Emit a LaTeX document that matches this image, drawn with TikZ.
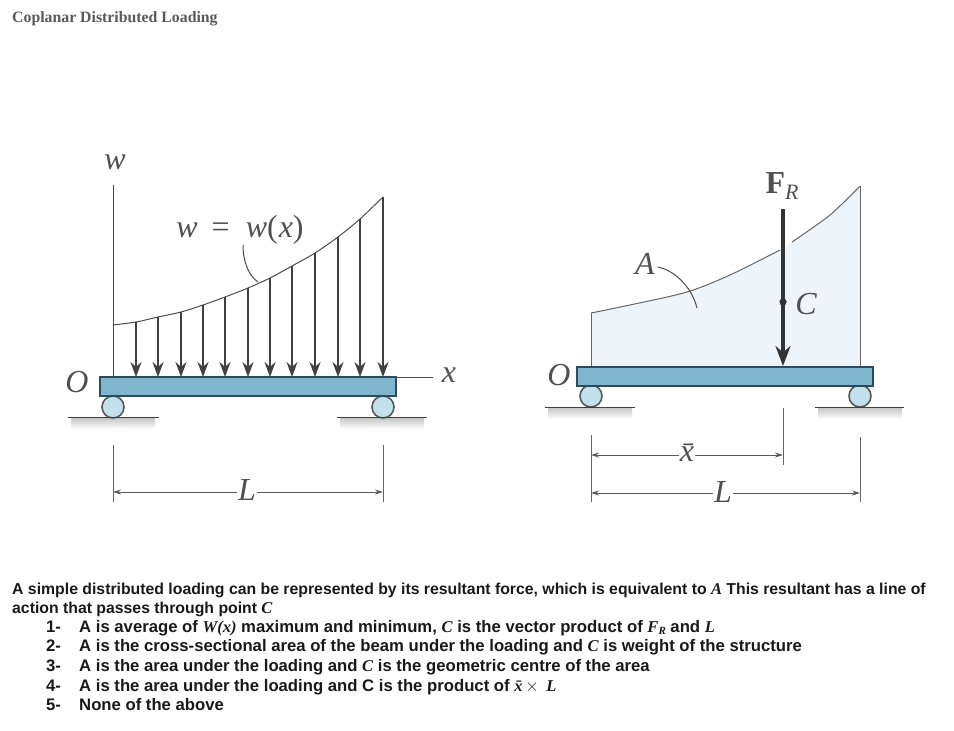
\documentclass[tikz,border=0pt]{standalone}
\usepackage{fontspec}
\setmainfont{Liberation Sans}
\newfontfamily\serifface{Liberation Serif}
\usepackage{tikz}
\usetikzlibrary{arrows.meta,positioning}
\definecolor{beamblue}{RGB}{128,182,205}
\definecolor{beamedge}{RGB}{45,75,90}
\definecolor{areablue}{RGB}{238,245,250}
\definecolor{rollerblue}{RGB}{195,225,235}
\definecolor{inkgray}{RGB}{80,80,80}
\newcommand{\mv}[1]{{\serifface\bfseries\itshape\fontsize{16.5}{16.5}\selectfont #1}}
\newcommand{\lab}[1]{{\serifface\itshape\fontsize{32}{32}\selectfont #1}}
\newcommand{\rmlab}[1]{{\serifface\fontsize{32}{32}\selectfont #1}}
\tikzset{beam node/.style={draw=beamedge,line width=1.4pt,fill=beamblue},
	roller node/.style={circle,draw=black!65,line width=1.6pt,fill=rollerblue,minimum size=22pt,inner sep=0pt},
	ground line/.style={draw=black!75,line width=1pt},
	thin line/.style={draw=black!70,line width=1pt},
	load arrow/.style={draw=black!75,line width=1.4pt,-{Stealth[length=15pt,width=11pt]}},
	dim line/.style={draw=black!65,line width=.9pt,-{Stealth[length=8pt,width=5pt]}},
	text line/.style={anchor=base west,inner sep=0pt,font=\bfseries\fontsize{15.8}{15.8}\selectfont,text=black!90},
	option line/.style={text line,font=\bfseries\fontsize{16.7}{16.7}\selectfont},
	label node/.style={text=inkgray,inner sep=1pt},
}

\begin{document}
\begin{tikzpicture}[x=1pt,y=-1pt]
	\useasboundingbox (0,0) rectangle (954,731);
	\node[anchor=base west,inner sep=0pt,text=black!65,font=\serifface\bfseries\fontsize{15.8}{15.8}\selectfont] (title) at (12,22) {Coplanar Distributed Loading};

	%% left figure
	\begin{scope}
	\foreach \gx in {68,337} {
		\shade[top color=black!22,bottom color=white] (\gx+3,418) rectangle (\gx+87,429);
	}
	\coordinate (axtop) at (113,185);
	\coordinate (axbot) at (113,377);
	\draw[thin line] (axtop) -- (axbot);
	\draw[thin line] plot[smooth] coordinates {(113,325) (136,322) (158,317) (181,312) (203,305) (225,297) (248,288) (270,278) (292,266) (315,253) (338,237) (360,219) (383,197)};
	\foreach \ax/\ay in {136/322,158/317,181/312,203/305,225/297,248/288,270/278,292/266,315/253,338/237,360/219,383/197} {
		\draw[load arrow] (\ax,\ay) -- (\ax,377);
	}
	\draw[thin line] (243,245) .. controls (243,262) and (249,276) .. (258,282);
	\node[label node] (wlab) at (115,162) {\lab{w}};
	\node[label node] (wfun) at (240,230) {\lab{w}\hspace{14pt}\rmlab{=}\hspace{16pt}\lab{w}\rmlab{(}\hspace{1pt}\lab{x}\rmlab{)}};
	\node[label node] (xlab) at (449,375) {\lab{x}};
	\node[label node] (olab) at (77,382) {\lab{O}};
	\draw[thin line] (396,377) -- (433,377);
	\node[roller node] (r1) at (113,407) {};
	\node[roller node] (r2) at (383,407) {};
	\draw[beam node] (100,377) rectangle (396,396);
	\draw[ground line] (68,417) -- (159,417);
	\draw[ground line] (337,417) -- (427,417);

	\coordinate (da) at (113,492);
	\coordinate (db) at (383,492);
	\node[label node] (llab) at (247,490) {\lab{L}};
	\draw[thin line,black!60] (113,445) -- (113,502);
	\draw[thin line,black!60] (383,445) -- (383,502);
	\draw[dim line] (llab.west |- da) -- (da);
	\draw[dim line] (llab.east |- db) -- (db);
	\end{scope}

	%% right figure
	\begin{scope}
	\foreach \gx in {545,815} {
		\shade[top color=black!22,bottom color=white] (\gx+3,408) rectangle (\gx+87,419);
	}
	\fill[areablue] plot[smooth] coordinates {(591,313) (630,305) (687,292) (730,275) (780,250) (792,242) (830,215) (860,186)} -- (860,367) -- (591,367) -- cycle;
	\draw[thin line,black!60] (591,367) -- (591,313);
	\draw[thin line,black!60] plot[smooth] coordinates {(591,313) (630,305) (687,292) (730,275) (780,250)};
	\draw[thin line,black!60] plot[smooth] coordinates {(792,242) (830,215) (860,186)};
	\draw[thin line,black!60] (860,186) -- (860,367);
	\draw[thin line] (658,267) .. controls (676,271) and (692,288) .. (697,308);
	\node[label node] (alab) at (645,264) {\lab{A}};
	\node[label node] (frlab) at (782,186) {{\serifface\bfseries\fontsize{32}{32}\selectfont F}{\serifface\itshape\fontsize{22}{22}\selectfont\raisebox{-6pt}{R}}};
	\node[label node] (clab) at (806,304) {\lab{C}};
	\node[label node] (o2lab) at (559,375) {\lab{O}};
	\coordinate (ftop) at (783,209);
	\coordinate (ftip) at (783,366);
	\draw[black!80,line width=3.6pt,-{Stealth[length=20pt,width=15pt]}] (ftop) -- (ftip);
	\fill[black!80] (783,302) circle (3.6pt);
	\node[roller node] (r3) at (591,396) {};
	\node[roller node] (r4) at (860,396) {};
	\draw[beam node] (577,367) rectangle (873,386);
	\draw[ground line] (545,407) -- (635,407);
	\draw[ground line] (815,407) -- (904,407);

	\coordinate (xa) at (591,455);
	\coordinate (xb) at (783,455);
	\coordinate (la) at (591,493);
	\coordinate (lb) at (860,493);
	\node[label node] (xbar) at (687,453) {{\serifface\itshape\fontsize{32}{32}\selectfont\=x}};
	\node[label node] (l2lab) at (723,492) {\lab{L}};
	\draw[thin line,black!60] (591,435) -- (591,502);
	\draw[thin line,black!60] (783,408) -- (783,465);
	\draw[thin line,black!60] (860,437) -- (860,502);
	\draw[dim line] (xbar.west |- xa) -- (xa);
	\draw[dim line] (xbar.east |- xb) -- (xb);
	\draw[dim line] (l2lab.west |- la) -- (la);
	\draw[dim line] (l2lab.east |- lb) -- (lb);
	\end{scope}

	%% question text
	\node[text line] (line1) at (12,594) {A simple distributed loading can be represented by its resultant force, which is equivalent to \mv{A} This resultant has a line of};
	\node[text line] (line2) at (12,613) {action that passes through point \mv{C}};
	\foreach \n/\yy in {1/632,2/651,3/671,4/691,5/710} {
		\node[option line] (num\n) at (46,\yy) {\n-};
	}
	\node[option line] (opt1) at (79,632) {A is average of \mv{W(x)} maximum and minimum, \mv{C} is the vector product of \mv{F}\raisebox{-2pt}{\mv{\fontsize{11}{11}\selectfont R}} and \mv{L}};
	\node[option line] (opt2) at (79,651) {A is the cross-sectional area of the beam under the loading and \mv{C} is weight of the structure};
	\node[option line] (opt3) at (79,671) {A is the area under the loading and \mv{C} is the geometric centre of the area};
	\node[option line] (opt4) at (79,691) {A is the area under the loading and C is the product of \mv{\=x}\,$\times$\, \mv{L}};
	\node[option line] (opt5) at (79,710) {None of the above};
\end{tikzpicture}
\end{document}
